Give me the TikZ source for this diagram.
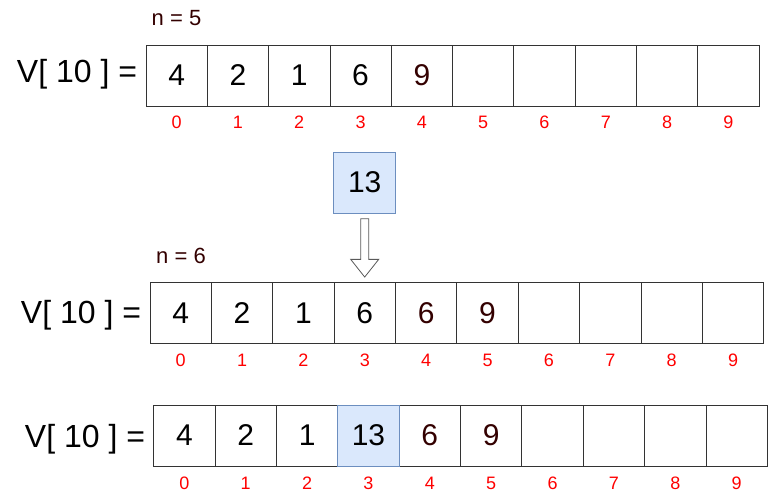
\documentclass[tikz,border=0pt]{standalone}
\usepackage{fontspec}
\setmainfont{Liberation Sans}
\begin{document}
\begin{tikzpicture}[x=1pt,y=-1pt,
  cell/.style={draw=black!80,line width=0.8pt,minimum width=61.3pt,minimum height=61pt,inner sep=0pt,font=\fontsize{30}{30}\selectfont},
  idx/.style={text=red,font=\fontsize{18}{18}\selectfont,inner sep=0pt},
  lbl/.style={font=\fontsize{32}{32}\selectfont,anchor=base,inner sep=0pt},
  nlbl/.style={text=darkbrown,font=\fontsize{22}{22}\selectfont,inner sep=0pt},
  arr/.style={draw=black!65,fill=white,line width=0.8pt,line join=miter}]
\definecolor{darkbrown}{HTML}{330000}
\definecolor{hotfill}{HTML}{DAE8FC}
\definecolor{hotdraw}{HTML}{6C8EBF}
\useasboundingbox (0,0) rectangle (768,493);
% row 1
\node[nlbl] (n1) at (176.5,18) {n = 5};
\node[lbl] (v1) at (77,82) {V[ 10 ] =};
\foreach \i/\t in {0/4,1/2,2/1,3/6,4/{\textcolor{darkbrown}{9}},5/,6/,7/,8/,9/}{
  \node[cell] (a\i) at ({146+30.65+61.3*\i},75.5) {\t};
  \node[idx] (ai\i) at ({146+30.65+61.3*\i},122) {\i};
}
% box 13
\node[cell,fill=hotfill,draw=hotdraw,minimum width=62pt,minimum height=60.7pt] (b13) at (364.7,182.6) {13};
\draw[arr,shift={(b13.south)}] (-4,5.3) -- (4,5.3) -- (4,46) -- (14,46) -- (0,63.7) -- (-14,46) -- (-4,46) -- cycle;
% row 2
\node[nlbl] (n2) at (181,256) {n = 6};
\node[lbl] (v2) at (81,323) {V[ 10 ] =};
\foreach \i/\t in {0/4,1/2,2/1,3/6,4/{\textcolor{darkbrown}{6}},5/{\textcolor{darkbrown}{9}},6/,7/,8/,9/}{
  \node[cell] (b\i) at ({150+30.685+61.37*\i},313) {\t};
  \node[idx] (bi\i) at ({150+30.685+61.37*\i},360) {\i};
}
% row 3
\node[lbl] (v3) at (85,447) {V[ 10 ] =};
\foreach \i/\t in {0/4,1/2,2/1,4/{\textcolor{darkbrown}{6}},5/{\textcolor{darkbrown}{9}},6/,7/,8/,9/}{
  \node[cell] (c\i) at ({153.7+30.68+61.36*\i},435.5) {\t};
}
\node[cell,fill=hotfill,draw=hotdraw] (c3) at ({153.7+30.68+61.36*3},435.5) {13};
\foreach \i in {0,...,9}{
  \node[idx] (ci\i) at ({153.7+30.68+61.36*\i},483) {\i};
}
\end{tikzpicture}
\end{document}
